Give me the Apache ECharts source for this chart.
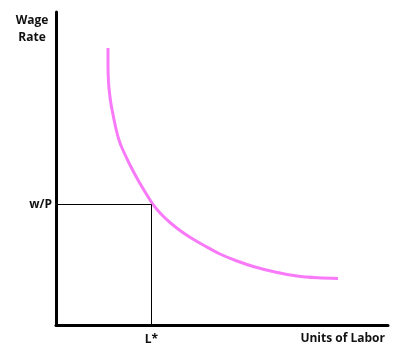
<!DOCTYPE html>
<html><head><meta charset="utf-8">
<script src="https://cdn.jsdelivr.net/npm/echarts@6/dist/echarts.min.js"></script>
<style>html,body{margin:0;padding:0;background:#fff}#c{width:397px;height:357px}</style>
</head><body><div id="c"></div>
<script>
// Labor demand curve (conceptual units, no numeric ticks in the original)
const curveX = [52,52,52.5,53.5,55,56.5,58.5,60.5,63,66,74,82,90,96,101,107,114,124,136,149,164,181,199,219,241,262,282];
const curveY = [277,260,243,232,221,213,203,194,185,177,160,145,131.5,122,115.5,109,102.5,94.5,86.5,79,71,64,58,53,49,47.2,46.5];
const eqX = 95.5, eqY = 120.5;
const yLabel = 'w/P', xLabel = 'L*';
const yTitle = 'Wage\nRate', xTitle = 'Units of Labor';
const xMax = 332, yMax = 313;

const font = '"Open Sans", "Liberation Sans", sans-serif';
const chart = echarts.init(document.getElementById('c'));
chart.setOption({
  animation: false,
  backgroundColor: '#fff',
  grid: {left: 56, top: 12, right: 9, bottom: 32},
  xAxis: {type: 'value', min: 0, max: xMax, splitLine: {show: false},
    axisTick: {show: false}, axisLabel: {show: false},
    axisLine: {show: true, lineStyle: {color: '#000', width: 3}},
    name: xTitle, nameLocation: 'end', nameGap: 0,
    nameTextStyle: {fontFamily: font, fontWeight: 'bold', fontSize: 12, color: '#111',
      align: 'right', verticalAlign: 'top', padding: [8, 3, 0, 0]}},
  yAxis: {type: 'value', min: 0, max: yMax, splitLine: {show: false},
    axisTick: {show: false}, axisLabel: {show: false},
    axisLine: {show: true, lineStyle: {color: '#000', width: 3}},
    name: yTitle, nameLocation: 'end', nameGap: 0,
    nameTextStyle: {fontFamily: font, fontWeight: 'bold', fontSize: 12, color: '#111',
      align: 'center', verticalAlign: 'top', lineHeight: 17, padding: [0, 0, 0, -48]}},
  series: [
    {type: 'line', data: curveX.map((x, i) => [x, curveY[i]]), smooth: 0.3, showSymbol: false,
      lineStyle: {color: '#f87af8', width: 3}, emphasis: {disabled: true}},
    {type: 'line', showSymbol: true, symbolSize: 0.1,
      lineStyle: {color: '#000', width: 1},
      label: {show: true, fontFamily: font, fontWeight: 'bold', fontSize: 12, color: '#111',
        formatter: p => p.dataIndex === 0 ? yLabel : (p.dataIndex === 2 ? xLabel : '')},
      emphasis: {disabled: true},
      data: [
        {value: [0, eqY], label: {position: 'left', distance: 3}},
        {value: [eqX, eqY], label: {show: false}},
        {value: [eqX, 0], label: {position: 'bottom', distance: 8}}
      ]}
  ]
});
</script></body></html>
